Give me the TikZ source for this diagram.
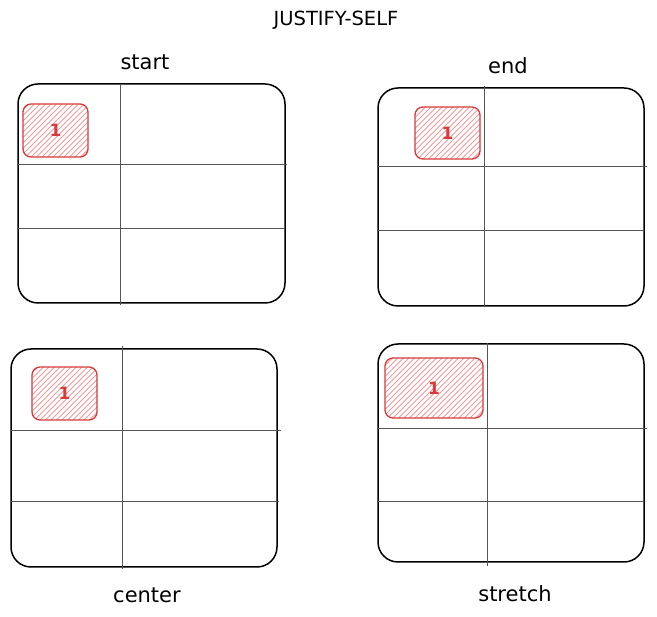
\documentclass[tikz,border=0pt]{standalone}
\usepackage{fontspec}
\setmainfont{DejaVu Sans}
\definecolor{exred}{HTML}{D63A3A}
\definecolor{hatchred}{HTML}{F59A9A}
\definecolor{gridgray}{HTML}{555555}
\tikzset{
  panel/.style={draw=black, line width=1.5pt, rounded corners=20pt},
  gridline/.style={draw=gridgray, line width=1pt},
  itemborder/.style={draw=exred, line width=1.3pt, rounded corners=8pt},
  hatch/.style={draw=hatchred, line width=0.9pt},
  itemtext/.style={text=exred, font=\fontsize{17}{20}\selectfont\bfseries},
  caption/.style={font=\fontsize{21}{24}\selectfont, text=black},
}
% hatched item: #1,#2 top-left; #3,#4 bottom-right
\newcommand{\hatchitem}[4]{%
  \begin{scope}
    \clip[rounded corners=8pt] (#1,#2) rectangle (#3,#4);
    \foreach \k in {0,5.5,...,200} {
      \draw[hatch] ({#1+\k-80},#4) -- ++(80,-80);
    }
  \end{scope}
  \draw[itemborder] (#1,#2) rectangle (#3,#4);
}
\begin{document}
\begin{tikzpicture}[x=1pt,y=-1pt]
\useasboundingbox (0,0) rectangle (657,617);
\node[caption, font=\fontsize{19.5}{22}\selectfont] (title) at (336,20) {JUSTIFY-SELF};

% panel 1: start
\node[caption] (lstart) at (145,62) {start};
\draw[panel] (18,84) rectangle (285,303);
\draw[gridline] (120,84) -- (120,305);
\draw[gridline] (18,165) -- (287,165);
\draw[gridline] (17,229) -- (285,229);
\hatchitem{23}{104}{88}{157}
\node[itemtext] (n1) at (55.5,130.5) {1};

% panel 2: end
\node[caption] (lend) at (508,66) {end};
\draw[panel] (378,88) rectangle (644,306);
\draw[gridline] (484,86) -- (484,306);
\draw[gridline] (378,167) -- (647,167);
\draw[gridline] (378,231) -- (644,231);
\hatchitem{415}{107}{480}{159}
\node[itemtext] (n2) at (447.5,133) {1};

% panel 3: center
\draw[panel] (11,349) rectangle (277,567);
\draw[gridline] (122,346) -- (122,569);
\draw[gridline] (11,431) -- (281,431);
\draw[gridline] (11,502) -- (279,502);
\hatchitem{32}{367}{97}{420}
\node[itemtext] (n3) at (64.5,393.5) {1};
\node[caption] (lcenter) at (147,595) {center};

% panel 4: stretch
\draw[panel] (378,344) rectangle (644,562);
\draw[gridline] (487,343) -- (487,566);
\draw[gridline] (378,429) -- (647,429);
\draw[gridline] (378,502) -- (644,502);
\hatchitem{385}{358}{483}{418}
\node[itemtext] (n4) at (434,388) {1};
\node[caption] (lstretch) at (515,594) {stretch};
\end{tikzpicture}
\end{document}
